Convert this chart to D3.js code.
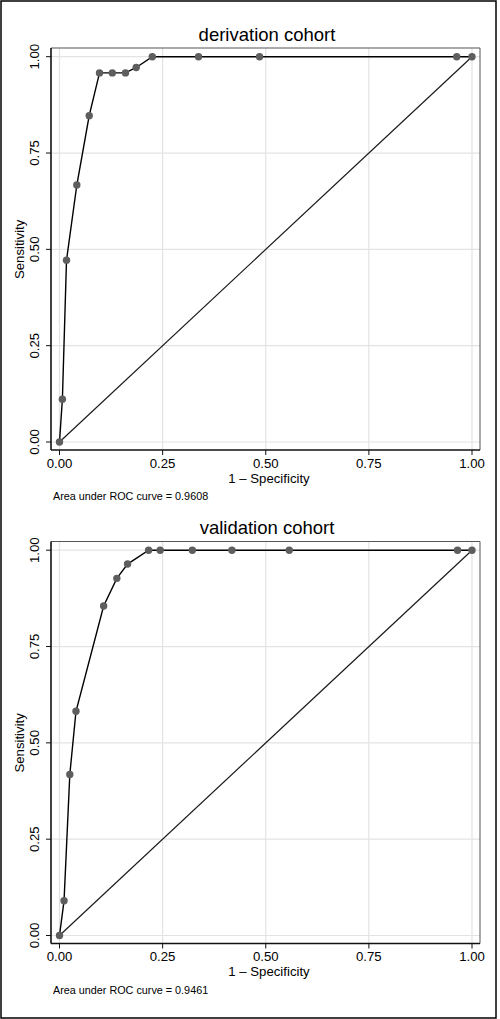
<!DOCTYPE html>
<head>
    <meta charset="utf-8">
    <title>ROC curves</title>
    <script src="https://d3js.org/d3.v7.min.js"></script>
    <style>
        body { margin: 0; background: #fff; }
        svg text { font-family: "Liberation Sans", Arial, Helvetica, sans-serif; fill: #000; }
    </style>
</head>
<body>
    <svg class="chart" width="500" height="1019"></svg>
    <script>
        // values (1 - specificity, sensitivity)
        var derivX = [0, 0.007, 0.017, 0.042, 0.072, 0.097, 0.128, 0.160, 0.186, 0.225, 0.337, 0.485, 0.963, 1];
        var derivY = [0, 0.111, 0.472, 0.667, 0.847, 0.958, 0.958, 0.958, 0.972, 1, 1, 1, 1, 1];
        var validX = [0, 0.011, 0.025, 0.040, 0.107, 0.139, 0.165, 0.216, 0.244, 0.322, 0.418, 0.557, 0.965, 1];
        var validY = [0, 0.090, 0.418, 0.582, 0.855, 0.927, 0.964, 1, 1, 1, 1, 1, 1, 1];
        var tickValues = [0, 0.25, 0.5, 0.75, 1];
        var tickLabels = ["0.00", "0.25", "0.50", "0.75", "1.00"];
        var titles = ["derivation cohort", "validation cohort"];
        var aucLabels = ["Area under ROC curve = 0.9608", "Area under ROC curve = 0.9461"];

        var svg = d3.select("svg");

        // outer border round the whole graph
        svg.append("rect")
            .attr("x", 1).attr("y", 1)
            .attr("width", 495).attr("height", 1017)
            .attr("fill", "none")
            .attr("stroke", "#000")
            .attr("stroke-width", 1.5);

        function drawPanel(xs, ys, title, auc, offset) {
            var x = d3.scaleLinear().domain([0, 1]).range([59.5, 472]);
            var y = d3.scaleLinear().domain([0, 1]).range([442, 56.7]);
            var left = 51, right = 480, top = 48, bottom = 450;

            var g = svg.append("g").attr("transform", "translate(0," + offset + ")");

            // grid
            g.selectAll(".vgrid").data(tickValues).enter().append("line")
                .attr("x1", d => x(d)).attr("x2", d => x(d))
                .attr("y1", top).attr("y2", bottom)
                .attr("stroke", "#e3e3e3").attr("stroke-width", 1.2);
            g.selectAll(".hgrid").data(tickValues).enter().append("line")
                .attr("y1", d => y(d)).attr("y2", d => y(d))
                .attr("x1", left).attr("x2", right)
                .attr("stroke", "#e3e3e3").attr("stroke-width", 1.2);

            // frame top and right
            g.append("path")
                .attr("d", "M" + left + "," + top + "H" + right + "V" + bottom)
                .attr("fill", "none").attr("stroke", "#555").attr("stroke-width", 1);

            // reference diagonal
            g.append("path")
                .datum([0, 1])
                .attr("d", d3.line().x(d => x(d)).y(d => y(d)))
                .attr("fill", "none").attr("stroke", "#1a1a1a").attr("stroke-width", 1.2);

            var pts = xs.map((v, i) => [v, ys[i]]);

            g.append("path")
                .datum(pts)
                .attr("d", d3.line().x(d => x(d[0])).y(d => y(d[1])))
                .attr("fill", "none").attr("stroke", "#000").attr("stroke-width", 1.4);

            g.selectAll("circle").data(pts).enter().append("circle")
                .attr("cx", d => x(d[0]))
                .attr("cy", d => y(d[1]))
                .attr("r", 3.7)
                .attr("fill", "#5e5e5e");

            // axes
            g.append("line").attr("x1", left).attr("x2", left).attr("y1", top).attr("y2", bottom)
                .attr("stroke", "#111").attr("stroke-width", 1.6);
            g.append("line").attr("x1", left).attr("x2", right).attr("y1", bottom).attr("y2", bottom)
                .attr("stroke", "#111").attr("stroke-width", 1.6);

            g.selectAll(".xtick").data(tickValues).enter().append("line")
                .attr("x1", d => x(d)).attr("x2", d => x(d))
                .attr("y1", bottom).attr("y2", bottom + 5)
                .attr("stroke", "#111").attr("stroke-width", 1);
            g.selectAll(".ytick").data(tickValues).enter().append("line")
                .attr("y1", d => y(d)).attr("y2", d => y(d))
                .attr("x1", left - 5).attr("x2", left)
                .attr("stroke", "#111").attr("stroke-width", 1);

            g.selectAll(".xlab").data(tickValues).enter().append("text")
                .attr("x", d => x(d)).attr("y", 467.5)
                .attr("text-anchor", "middle")
                .style("font-size", "13.2px")
                .text((d, i) => tickLabels[i]);
            g.selectAll(".ylab").data(tickValues).enter().append("text")
                .attr("transform", d => "translate(39," + y(d) + ") rotate(-90)")
                .attr("text-anchor", "middle")
                .style("font-size", "13.2px")
                .text((d, i) => tickLabels[i]);

            g.append("text")
                .attr("x", 269).attr("y", 482.5)
                .attr("text-anchor", "middle")
                .style("font-size", "13.2px")
                .text("1 \u2013 Specificity");
            g.append("text")
                .attr("transform", "translate(23.5," + y(0.5) + ") rotate(-90)")
                .attr("text-anchor", "middle")
                .style("font-size", "13.2px")
                .text("Sensitivity");

            g.append("text")
                .attr("x", 267).attr("y", 40.7)
                .attr("text-anchor", "middle")
                .style("font-size", "18.5px")
                .text(title);

            g.append("text")
                .attr("x", 53).attr("y", 500)
                .style("font-size", "10.8px")
                .text(auc);
        }

        drawPanel(derivX, derivY, titles[0], aucLabels[0], 0);
        drawPanel(validX, validY, titles[1], aucLabels[1], 493.5);
    </script>
</body>
